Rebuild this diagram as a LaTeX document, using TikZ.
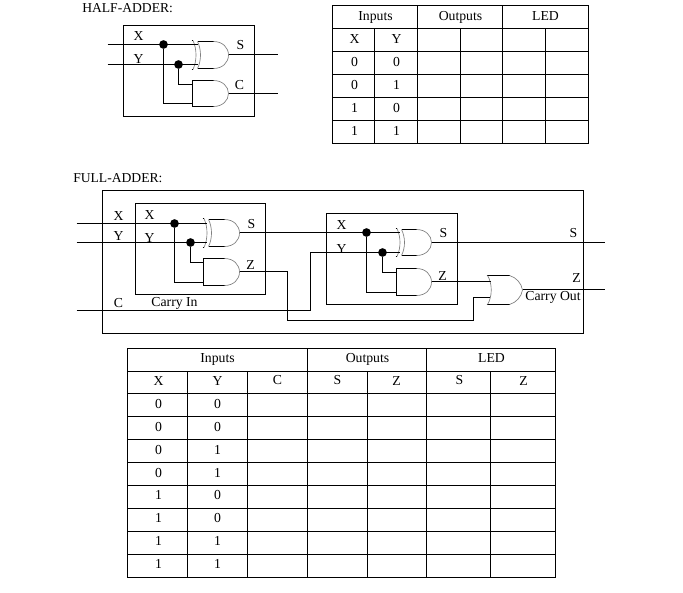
\documentclass[tikz,border=0pt]{standalone}
\usepackage{fontspec}
\setmainfont{Liberation Serif}
\definecolor{curve}{gray}{0.5}
\tikzset{
  wire/.style={draw=black,line width=0.75pt},
  frame/.style={draw=black,line width=0.75pt},
  grid/.style={draw=black,line width=0.75pt},
  joint/.style={circle,fill=black,inner sep=0pt,minimum size=6.5pt},
  lbl/.style={font=\fontsize{10.3}{12}\selectfont,inner sep=0pt,text=black},
  head/.style={lbl,anchor=base},
  title/.style={font=\fontsize{10.2}{12}\selectfont,inner sep=0pt,anchor=west,text=black},
  curved/.style={draw=curve,line width=0.5pt},
}
% gate: name, left x of body, top y, right tip x, bottom y
\newcommand{\andgate}[5]{%
  \coordinate (#1-a) at (#2,{#3+3.5});
  \coordinate (#1-b) at (#2,{#5-3.5});
  \coordinate (#1-o) at (#4,{floor((#3+#5)/2)});
  \draw[wire] ({#4-15},#3) -- (#2,#3) -- (#2,#5) -- ({#4-15},#5);
  \draw[curved] ({#4-15},#3) .. controls ({#4-6},#3) and (#4,{#3+6}) .. (#4,{(#3+#5)/2})
     .. controls (#4,{#5-6}) and ({#4-6},#5) .. ({#4-15},#5);
}
\newcommand{\xorgate}[5]{%
  \coordinate (#1-o) at (#4,{floor((#3+#5)/2)});
  \draw[wire] ({#4-15},#3) -- (#2,#3);
  \draw[wire] ({#4-15},#5) -- (#2,#5);
  \draw[curved] ({#4-15},#3) .. controls ({#4-6},#3) and (#4,{#3+6}) .. (#4,{(#3+#5)/2})
     .. controls (#4,{#5-6}) and ({#4-6},#5) .. ({#4-15},#5);
  \draw[curved] (#2,#3) .. controls ({#2+4},{#3+8}) and ({#2+4},{#5-8}) .. (#2,#5);
  \draw[curved] ({#2-4.5},{#3-1}) .. controls ({#2-0.5},{#3+8}) and ({#2-0.5},{#5-8}) .. ({#2-4.5},{#5+1});
  \draw[wire] ({#2-6},{#3-1}) -- ({#2-4.5},{#3-1});
  \draw[wire] ({#2-6},{#5+1}) -- ({#2-4.5},{#5+1});
}
\newcommand{\orgate}[5]{%
  \coordinate (#1-o) at (#4,{floor((#3+#5)/2)});
  \draw[wire] (#2,#3) -- ({#4-13},#3);
  \draw[wire] (#2,#5) -- ({#4-13},#5);
  \draw[curved] ({#4-13},#3) .. controls ({#4-6},{#3+2}) and ({#4-1},{#3+8}) .. (#4,{(#3+#5)/2})
     .. controls ({#4-1},{#5-8}) and ({#4-6},{#5-2}) .. ({#4-13},#5);
  \draw[curved] ({#2+1},#3) .. controls ({#2+6},{#3+8}) and ({#2+6},{#5-8}) .. ({#2+1},#5);
}
\begin{document}
\begin{tikzpicture}[x=0.75pt,y=-0.75pt]
\useasboundingbox (-0.5,-0.5) rectangle (682.5,592.5);
\fill[white] (-0.5,-0.5) rectangle (682.5,592.5);

% ---------- HALF ADDER ----------
\node[title] (t1) at (81.5,8) {HALF-ADDER:};
\draw[frame] (123,25) rectangle (254,116);
\coordinate (hx) at (107,44);
\coordinate (hy) at (107,64);
\coordinate (hxe) at (197,44);
\coordinate (hye) at (197,64);
\node[joint] (hd1) at (163,44) {};
\node[joint] (hd2) at (178,64) {};
\xorgate{hxor}{197}{41}{228}{68}
\andgate{hand}{192}{80}{228}{106}
\coordinate (hs) at (277,54);
\coordinate (hc) at (277,93);
\draw[wire] (hx) -- (hxe);
\draw[wire] (hy) -- (hye);
\draw[wire] (hxor-o) -- (hs);
\draw[wire] (hand-o) -- (hc);
\draw[wire] (hd2) |- (hand-a);
\draw[wire] (hd1) |- (hand-b);
\node[lbl] (lx) at (138,36) {X};
\node[lbl] (ly) at (138,58) {Y};
\node[lbl] (ls) at (240,45) {S};
\node[lbl] (lc) at (239,85) {C};

% ---------- TOP TABLE ----------
\draw[grid] (332,5) rectangle (588,143);
\foreach \y in {28,51,74,97,120} \draw[grid] (332,\y) -- (588,\y);
\foreach \x in {417,502} \draw[grid] (\x,5) -- (\x,143);
\foreach \x in {374,460,545} \draw[grid] (\x,28) -- (\x,143);
\node[head] (h1) at (375,19.5) {Inputs};
\node[head] (h2) at (460,19.5) {Outputs};
\node[head] (h3) at (545,19.5) {LED};
\node[lbl] (hh1) at (354,38.5) {X};
\node[lbl] (hh2) at (396,38.5) {Y};
\node[lbl] (c11) at (354,61) {0};
\node[lbl] (c12) at (396,61) {0};
\node[lbl] (c21) at (354,84) {0};
\node[lbl] (c22) at (396,84) {1};
\node[lbl] (c31) at (354,107) {1};
\node[lbl] (c32) at (396,107) {0};
\node[lbl] (c41) at (354,130) {1};
\node[lbl] (c42) at (396,130) {1};

% ---------- FULL ADDER ----------
\node[title] (t2) at (72.5,178) {FULL-ADDER:};
\draw[frame] (102,190) rectangle (583,333);
\draw[frame] (135,203) rectangle (265,294);
\draw[frame] (326,213) rectangle (457,304);

\coordinate (fx) at (76,223);
\coordinate (fy) at (76,242);
\coordinate (fc) at (76,310);
\coordinate (fxe) at (206,223);
\coordinate (fye) at (206,242);
\node[joint] (fd1) at (174,223) {};
\node[joint] (fd2) at (190,242) {};
\xorgate{fxor}{208}{219}{239}{246}
\andgate{fand}{203}{258}{239}{285}

\coordinate (gxe) at (399,232);
\coordinate (gye) at (399,252);
\node[joint] (gd1) at (366,232) {};
\node[joint] (gd2) at (382,252) {};
\xorgate{gxor}{401}{229}{431}{255}
\andgate{gand}{396}{268}{431}{295}
\orgate{ror}{486}{275}{522}{304}

\coordinate (cj) at (310,310);
\coordinate (yj) at (310,252);
\coordinate (zb) at (287,320);
\coordinate (zc) at (473,320);
\coordinate (zd) at (473,297);
\coordinate (ze) at (489,297);
\coordinate (zi) at (490,281);
\coordinate (so) at (604,242);
\coordinate (zo) at (604,289);

\draw[wire] (fx) -- (fxe);
\draw[wire] (fy) -- (fye);
\draw[wire] (fc) -- (cj) -- (yj) -- (gye);
\draw[wire] (fd2) |- (fand-a);
\draw[wire] (fd1) |- (fand-b);
\draw[wire] (fxor-o) -- (gxe);
\draw[wire] (fand-o) -| (zb) -- (zc) -- (zd) -- (ze);
\draw[wire] (gd2) |- (gand-a);
\draw[wire] (gd1) |- (gand-b);
\draw[wire] (gxor-o) -- (so);
\draw[wire] (gand-o) -- (zi);
\draw[wire] (ror-o) -- (zo);

\node[lbl] (a1) at (118,215) {X};
\node[lbl] (a2) at (118,235) {Y};
\node[lbl] (a3) at (149,214) {X};
\node[lbl] (a4) at (149,237) {Y};
\node[lbl] (a5) at (251,224) {S};
\node[lbl] (a6) at (250,264) {Z};
\node[lbl] (a7) at (118,303) {C};
\node[lbl] (a8) at (174,303) {Carry In};
\node[lbl] (b1) at (341,224) {X};
\node[lbl] (b2) at (341,248) {Y};
\node[lbl] (b3) at (443,233) {S};
\node[lbl] (b4) at (442,275) {Z};
\node[lbl] (b5) at (573,233) {S};
\node[lbl] (b6) at (576,277) {Z};
\node[lbl] (b7) at (552.5,296.5) {Carry Out};

% ---------- BOTTOM TABLE ----------
\draw[grid] (127,348) rectangle (555,577);
\foreach \y in {371,393,416,439,462,485,508,531,554} \draw[grid] (127,\y) -- (555,\y);
\foreach \x in {307,426} \draw[grid] (\x,348) -- (\x,577);
\foreach \x in {187,247,367,490} \draw[grid] (\x,371) -- (\x,577);
\node[head] (d1) at (217,361.5) {Inputs};
\node[head] (d2) at (367,361.5) {Outputs};
\node[head] (d3) at (491,361.5) {LED};
\node[lbl] (e1) at (158,380) {X};
\node[lbl] (e2) at (217,380) {Y};
\node[lbl] (e3) at (277,380) {C};
\node[lbl] (e4) at (337,380) {S};
\node[lbl] (e5) at (396,380) {Z};
\node[lbl] (e6) at (459,380) {S};
\node[lbl] (e7) at (523,380) {Z};
\node[lbl] (r11) at (158,403) {0}; \node[lbl] (r12) at (217,403) {0};
\node[lbl] (r21) at (158,426) {0}; \node[lbl] (r22) at (217,426) {0};
\node[lbl] (r31) at (158,449) {0}; \node[lbl] (r32) at (217,449) {1};
\node[lbl] (r41) at (158,472) {0}; \node[lbl] (r42) at (217,472) {1};
\node[lbl] (r51) at (158,494) {1}; \node[lbl] (r52) at (217,494) {0};
\node[lbl] (r61) at (158,517) {1}; \node[lbl] (r62) at (217,517) {0};
\node[lbl] (r71) at (158,540) {1}; \node[lbl] (r72) at (217,540) {1};
\node[lbl] (r81) at (158,563) {1}; \node[lbl] (r82) at (217,563) {1};
\end{tikzpicture}
\end{document}
